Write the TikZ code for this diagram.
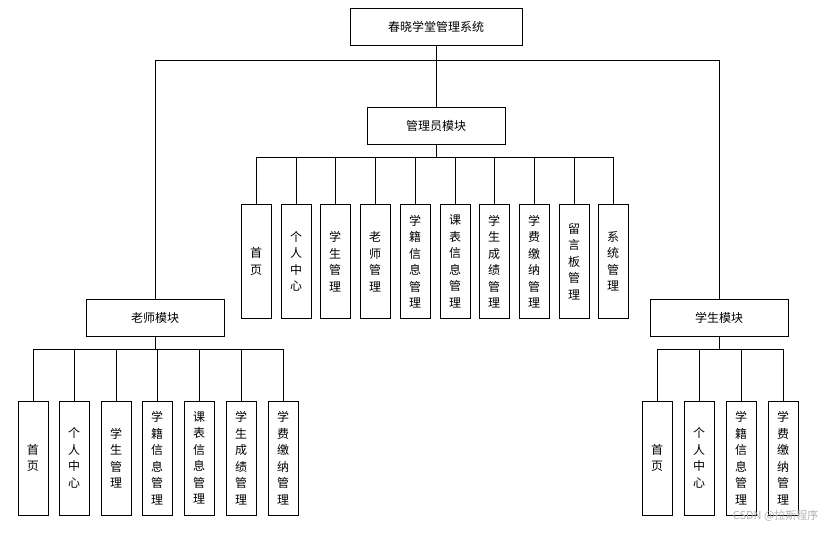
\documentclass[tikz,border=0pt]{standalone}
\usepackage{fontspec}
\usetikzlibrary{calc}
\newfontfamily\cjk{Noto Sans CJK SC}
\begin{document}
\begin{tikzpicture}[x=1pt,y=-1pt,
  hbox/.style={draw,line width=0.8pt,minimum width=138pt,minimum height=37pt,font=\cjk\fontsize{12}{14}\selectfont},
  vbox/.style={draw,line width=0.8pt,minimum width=30pt,minimum height=114pt,align=center,font=\cjk\fontsize{12}{16.5}\selectfont,inner sep=0pt},
  conn/.style={line width=0.8pt}]
\useasboundingbox (0,0) rectangle (827,533);
\node[hbox,minimum width=172pt] (root) at (436,26.5) {春晓学堂管理系统};
\node[hbox] (adm) at (436,125.5) {管理员模块};
\node[hbox] (tea) at (155,317.5) {老师模块};
\node[hbox] (stu) at (719,317.5) {学生模块};
\coordinate (jl) at (155,60); \coordinate (jr) at (719,60);
\draw[conn] (root.south) -- (adm.north);
\draw[conn] (tea.north) -- (jl) -- (jr) -- (stu.north);
% admin children
\foreach \x/\t [count=\i] in {256/首\\页,296/个\\人\\中\\心,335/学\\生\\管\\理,375/老\\师\\管\\理,415/学\\籍\\信\\息\\管\\理,455/课\\表\\信\\息\\管\\理,494/学\\生\\成\\绩\\管\\理,534/学\\费\\缴\\纳\\管\\理,574/留\\言\\板\\管\\理,613/系\\统\\管\\理}{
  \node[vbox] (a\i) at (\x,261.5) {\t};
  \draw[conn] (adm.south) |- ($(a\i.north)+(0,-47)$) -- (a\i.north);
}
\foreach \x/\t [count=\i] in {33/首\\页,74/个\\人\\中\\心,116/学\\生\\管\\理,157/学\\籍\\信\\息\\管\\理,199/课\\表\\信\\息\\管\\理,241/学\\生\\成\\绩\\管\\理,283/学\\费\\缴\\纳\\管\\理}{
  \node[vbox] (t\i) at (\x,458) {\t};
  \draw[conn] (tea.south) |- ($(t\i.north)+(0,-51)$) -- (t\i.north);
}
\foreach \x/\t [count=\i] in {657/首\\页,699/个\\人\\中\\心,741/学\\籍\\信\\息\\管\\理,783/学\\费\\缴\\纳\\管\\理}{
  \node[vbox] (s\i) at (\x,458) {\t};
  \draw[conn] (stu.south) |- ($(s\i.north)+(0,-51)$) -- (s\i.north);
}
\node[text=gray!60,font=\cjk\fontsize{11}{13}\selectfont,anchor=east] (wm) at (822,516) {CSDN @拉斯程序};
\end{tikzpicture}
\end{document}
